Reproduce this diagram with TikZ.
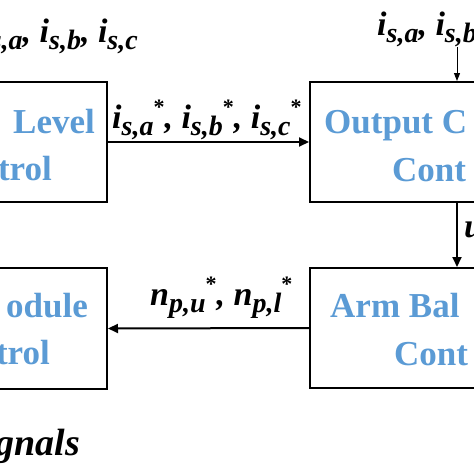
\documentclass[tikz,border=0pt]{standalone}
\usepackage{fontspec}
\setmainfont{Liberation Serif}
\usetikzlibrary{arrows.meta}
\definecolor{ctrlblue}{RGB}{91,155,213}
\newcommand{\subfnt}{\fontsize{28}{28}\selectfont\bfseries\itshape}
\newcommand{\sgl}[2]{#1\raisebox{-7pt}{\subfnt #2}}
\newcommand{\refmark}{\raisebox{14pt}{\fontsize{22}{22}\selectfont\bfseries\upshape *}}

\begin{document}
\begin{tikzpicture}[x=1pt,y=-1pt,
    ctrlbox/.style={draw, line width=2pt, minimum width=200pt, minimum height=120pt, inner sep=0pt, fill=white},
    ctrltext/.style={text=ctrlblue, font=\fontsize{35}{42}\selectfont\bfseries, inner sep=0pt},
    siglabel/.style={font=\fontsize{34}{40}\selectfont\bfseries\itshape, inner sep=0pt},
    flow/.style={line width=2pt, -{Triangle[length=10pt,width=9pt]}},
    tap/.style={line width=1pt, -{Triangle[length=8pt,width=6pt]}}]
    \useasboundingbox (0,0) rectangle (474,474);
    \clip (0,0) rectangle (474,474);
    % control blocks
    \node[ctrlbox] (tl) at (7,142) {};
    \node[ctrlbox] (tr) at (410,142) {};
    \node[ctrlbox, minimum height=121pt] (bl) at (7,328.5) {};
    \node[ctrlbox] (br) at (410,328) {};
    % block texts
    \node[ctrltext, anchor=base east] (tltop) at (95,133) {Level};
    \node[ctrltext, anchor=base east] (tlbot) at (52,180) {trol};
    \node[ctrltext, anchor=base west] (trtop) at (324,133) {Output C};
    \node[ctrltext, anchor=base west] (trbot) at (392,181) {Cont};
    \node[ctrltext, anchor=base east] (bltop) at (88,317) {odule};
    \node[ctrltext, anchor=base east] (blbot) at (50,364) {trol};
    \node[ctrltext, anchor=base west] (brtop) at (330,317) {Arm Bal};
    \node[ctrltext, anchor=base west] (brbot) at (394,365) {Cont};
    % signal flow
    \draw[flow] (tl.east) -- (tr.west);
    \draw[flow] (br.west) -- (bl.east);
    \coordinate (fb) at (457,0);
    \draw[flow] (tr.south -| fb) -- (br.north -| fb);
    \coordinate (isin) at (457,47);
    \draw[tap] (isin) -- (isin |- tr.north);
    % signal labels
    \node[siglabel, anchor=base east] (meas) at (138,42) {\sgl{i}{s,a}, \sgl{i}{s,b}, \sgl{i}{s,c}};
    \node[siglabel, anchor=base west] (iref) at (112,128) {\sgl{i}{s,a}\refmark, \sgl{i}{s,b}\refmark, \sgl{i}{s,c}\refmark};
    \node[siglabel, anchor=base west] (imeas) at (377,35) {\sgl{i}{s,a}, \sgl{i}{s,b}};
    \node[siglabel, anchor=base west] (nref) at (150,305) {\sgl{n}{p,u}\refmark, \sgl{n}{p,l}\refmark};
    \node[siglabel, anchor=base west] (uref) at (464,237) {u};
    \node[siglabel, font=\fontsize{38}{44}\selectfont\bfseries\itshape, anchor=base east] (legend) at (80,455) {gnals};
\end{tikzpicture}
\end{document}
